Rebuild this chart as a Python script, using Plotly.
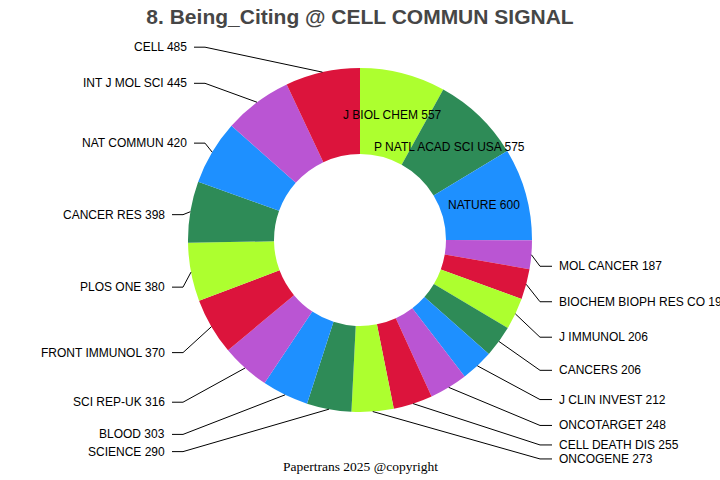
import math
import plotly.graph_objects as go

journals = ["J BIOL CHEM", "P NATL ACAD SCI USA", "NATURE", "MOL CANCER",
            "BIOCHEM BIOPH RES CO", "J IMMUNOL", "CANCERS", "J CLIN INVEST",
            "ONCOTARGET", "CELL DEATH DIS", "ONCOGENE", "SCIENCE", "BLOOD",
            "SCI REP-UK", "FRONT IMMUNOL", "PLOS ONE", "CANCER RES",
            "NAT COMMUN", "INT J MOL SCI", "CELL"]
counts = [557, 575, 600, 187, 198, 206, 206, 212, 248, 255, 273, 290, 303,
          316, 370, 380, 398, 420, 445, 485]
palette = ["#ADFF2F", "#2E8B57", "#1E90FF", "#BA55D3", "#DC143C"]
inside_n = 3  # the largest slices carry their label inside

# ---- layout geometry (pixels) ----
W, H = 720, 480
MT, MB, ML, MR = 68, 68, 0, 0
HOLE = 0.5
PW, PH = W - ML - MR, H - MT - MB
CX, CY = ML + PW / 2, MT + PH / 2
R = min(PW, PH) / 2
R_IN = R * HOLE
MIN_GAP = 14

def px(x):
    return (x - ML) / PW

def py(y):
    return (MT + PH - y) / PH

colors = [palette[i % len(palette)] for i in range(len(journals))]

fig = go.Figure(go.Pie(
    labels=journals,
    values=counts,
    hole=HOLE,
    sort=False,
    direction="clockwise",
    rotation=0,
    marker=dict(colors=colors, line=dict(width=0)),
    textinfo="none",
    hoverinfo="label+value",
    showlegend=False,
))

total = float(sum(counts))
annotations = []
shapes = []
font_lbl = dict(family="Arial, Liberation Sans, sans-serif", size=12, color="black")

# compute label anchors
items = []
cum = 0.0
for i, (name, v) in enumerate(zip(journals, counts)):
    mid = (cum + v / 2) / total * 2 * math.pi
    cum += v
    s, c = math.sin(mid), math.cos(mid)
    items.append(dict(i=i, text=f"{name} {v}", s=s, c=c,
                      ly=CY + 0.05 * R - 1.2 * R * c))

# resolve vertical overlaps per side
for side in (1, -1):
    grp = sorted([it for it in items if it["i"] >= inside_n and (it["s"] >= 0) == (side == 1)],
                 key=lambda d: d["ly"])
    for a, b in zip(grp, grp[1:]):
        if b["ly"] - a["ly"] < MIN_GAP:
            b["ly"] = a["ly"] + MIN_GAP

for it in items:
    s, c, text = it["s"], it["c"], it["text"]
    if it["i"] < inside_n:
        rm = (R + R_IN) / 2
        annotations.append(dict(text=text, x=px(CX + rm * s), y=py(CY - rm * c),
                                xref="paper", yref="paper", showarrow=False,
                                xanchor="center", yanchor="middle", font=font_lbl))
        continue
    ex, ey = CX + R * s, CY - R * c
    ly = it["ly"]
    if s >= 0:
        bx = CX + R + 8
        tx = bx + 12
        anchor, gap = "left", 5
    else:
        bx = CX - R - 5 if ly > CY - 0.4 * R else CX - R + 17
        tx = bx - 11
        anchor, gap = "right", -5
    shapes.append(dict(type="path", xref="paper", yref="paper",
                       path=f"M {px(ex)},{py(ey)} L {px(bx)},{py(ly)} L {px(tx)},{py(ly)}",
                       line=dict(color="black", width=1)))
    annotations.append(dict(text=text, x=px(tx + gap), y=py(ly),
                            xref="paper", yref="paper", showarrow=False,
                            xanchor=anchor, yanchor="middle", font=font_lbl))

annotations.append(dict(text="Papertrans 2025 @copyright", x=px(CX), y=py(466),
                        xref="paper", yref="paper", showarrow=False,
                        xanchor="center", yanchor="middle",
                        font=dict(family="Times New Roman, Liberation Serif, serif",
                                  size=13.5, color="black")))

fig.update_layout(
    width=W, height=H,
    margin=dict(t=MT, b=MB, l=ML, r=MR),
    paper_bgcolor="white", plot_bgcolor="white",
    title=dict(text="<b>8. Being_Citing @ CELL COMMUN SIGNAL</b>",
               x=0.5, xanchor="center", y=1 - 17 / H, yanchor="middle",
               font=dict(family="Arial, Liberation Sans, sans-serif", size=21, color="#464646")),
    annotations=annotations,
    shapes=shapes,
)

fig.write_html("out.html")
